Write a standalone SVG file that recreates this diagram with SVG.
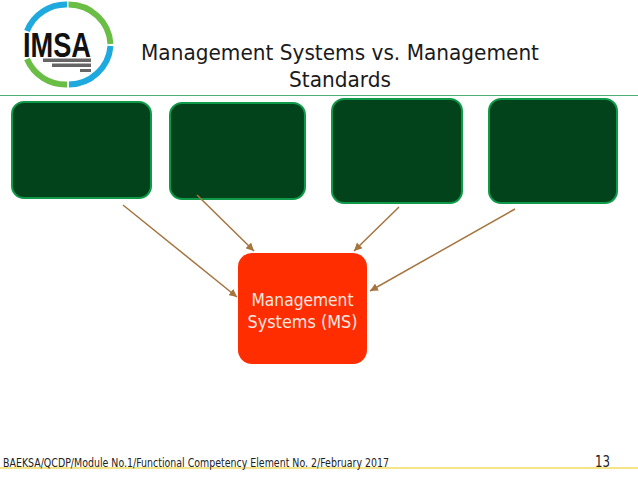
<svg xmlns="http://www.w3.org/2000/svg" width="638" height="478" viewBox="0 0 638 478">
<defs>
<marker id="a" markerUnits="userSpaceOnUse" markerWidth="9" markerHeight="8" refX="8" refY="4" orient="auto"><path d="M0 0L8 4L0 8z" fill="#a5743f"/></marker>
</defs>
<style>
text{font-family:"DejaVu Sans",sans-serif}
.g{fill:#03431c;stroke:#0e9a48;stroke-width:2}
.c{stroke:#a5743f;stroke-width:1.500;fill:none;marker-end:url(#a)}
.ring{fill:none;stroke-width:6}
.tiny{fill:#666}
</style>
<rect width="638" height="478" fill="#fff"/>
<g id="logo">
<path class="ring" d="M68.500 4.500A42 42 0 0 1 110.500 44" stroke="#6abd45"/>
<path class="ring" d="M110.500 46A42 42 0 0 1 69 84.500" stroke="#1eaade"/>
<path class="ring" d="M67 84.500A42 42 0 0 1 27 59" stroke="#6abd45"/>
<path class="ring" d="M27 31A42 42 0 0 1 67 4.500" stroke="#1eaade"/>
<text x="23" y="57" font-size="35" font-weight="bold" textLength="68" lengthAdjust="spacingAndGlyphs" style="font-family:'Liberation Sans',sans-serif" fill="#111">IMSA</text>
<rect class="tiny" x="43" y="58.500" width="48" height="3.500"/>
<rect class="tiny" x="52" y="63.500" width="39" height="3.500"/>
<rect class="tiny" x="80" y="69" width="11" height="3"/>
</g>
<line x1="0" y1="95.500" x2="638" y2="95.500" stroke="#4fae78" stroke-width="1"/>
<g id="title" font-size="22" fill="#1a1a1a" text-anchor="middle">
<text x="340" y="60" textLength="398" lengthAdjust="spacingAndGlyphs">Management Systems vs. Management</text>
<text x="340" y="87" textLength="102" lengthAdjust="spacingAndGlyphs">Standards</text>
</g>
<g id="node1"><rect class="g" x="12" y="102" width="139" height="96" rx="12"/></g>
<g id="node2"><rect class="g" x="170" y="103" width="135" height="96" rx="12"/></g>
<g id="node3"><rect class="g" x="332" y="99" width="130" height="104" rx="12"/></g>
<g id="node4"><rect class="g" x="489" y="99" width="128" height="104" rx="12"/></g>
<g id="connectors">
<line class="c" x1="123" y1="205" x2="237" y2="297"/>
<line class="c" x1="197" y1="195" x2="254" y2="251"/>
<line class="c" x1="399" y1="207" x2="354" y2="251"/>
<line class="c" x1="515" y1="209" x2="370" y2="291"/>
</g>
<g id="ms">
<rect x="238" y="253" width="129" height="111" rx="14" fill="#ff2d00"/>
<text x="302.500" y="306" font-size="18" fill="#fde8e0" text-anchor="middle" textLength="102" lengthAdjust="spacingAndGlyphs">Management</text>
<text x="302.500" y="328" font-size="18" fill="#fde8e0" text-anchor="middle" textLength="110" lengthAdjust="spacingAndGlyphs">Systems (MS)</text>
</g>
<g id="footer">
<line x1="0" y1="468" x2="638" y2="468" stroke="#f2dd5e" stroke-width="1.500"/>
<text x="3" y="467" font-size="13" fill="#222" textLength="386" lengthAdjust="spacingAndGlyphs">BAEKSA/QCDP/Module No.1/Functional Competency Element No. 2/February 2017</text>
<text x="595" y="467" font-size="15" fill="#222" textLength="15" lengthAdjust="spacingAndGlyphs">13</text>
</g>
</svg>
